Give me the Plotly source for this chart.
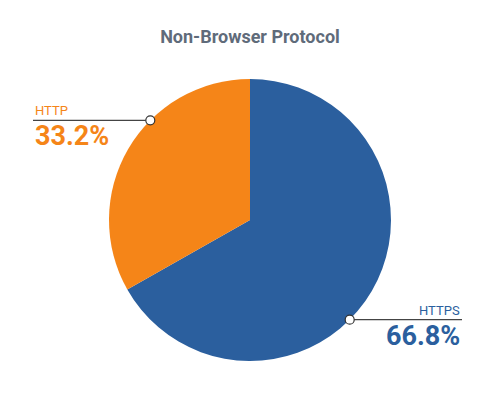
import numpy as np
import plotly.graph_objects as go

labels = ["HTTPS", "HTTP"]
values = [66.8, 33.2]
colors = ["#2b5f9e", "#f58518"]

W, H = 500, 400
OFF = 8  # page body margin
cx, cy, r = 250, 220, 141  # pie centre / radius in pixels

def px(x, y):
    return (x - OFF) / W, 1 - (y - OFF) / H

dx0, dy0 = px(cx - r, cy + r)
dx1, dy1 = px(cx + r, cy - r)
fig = go.Figure(go.Pie(
    labels=labels, values=values, sort=False, direction="clockwise", rotation=0,
    marker=dict(colors=colors, line=dict(width=0)),
    textinfo="none", showlegend=False,
    domain=dict(x=[dx0, dx1], y=[dy0, dy1]),
))

# callout points: slice mid angle snapped to nearest diagonal
start = 90.0
for lab, val, col in zip(labels, values, colors):
    span = val / sum(values) * 360
    mid = start - span / 2
    start -= span
    ang = 45 + 90 * round((mid - 45) / 90)
    mx = cx + r * np.cos(np.radians(ang))
    my = cy - r * np.sin(np.radians(ang))
    left = np.cos(np.radians(ang)) < 0
    ex = 33 if left else 462
    x0, y0 = px(min(mx, ex), my)
    x1, _ = px(max(mx, ex), my)
    fig.add_shape(type="line", xref="paper", yref="paper", x0=x0, x1=x1, y0=y0, y1=y0,
                  line=dict(color="#444", width=1.2))
    a0, b0 = px(mx - 4.5, my + 4.5)
    a1, b1 = px(mx + 4.5, my - 4.5)
    fig.add_shape(type="circle", xref="paper", yref="paper", x0=a0, x1=a1, y0=b0, y1=b1,
                  fillcolor="white", line=dict(color="#333", width=1.2))
    tx, _ = px(ex, 0)
    anchor = "left" if left else "right"
    fig.add_annotation(x=tx, y=y0, xref="paper", yref="paper", text=lab, showarrow=False,
                       xanchor=anchor, yanchor="bottom", yshift=0,
                       font=dict(family="Roboto", size=13, color=col))
    fig.add_annotation(x=tx, y=y0, xref="paper", yref="paper", text="<b>%.1f%%</b>" % val,
                       showarrow=False, xanchor=anchor, yanchor="top", yshift=2,
                       font=dict(family="Roboto", size=27, color=col))

tx, ty = px(cx, 37)
fig.update_layout(
    width=W, height=H, margin=dict(l=0, r=0, t=0, b=0),
    paper_bgcolor="white", plot_bgcolor="white",
    title=dict(text="<b>Non-Browser Protocol</b>", x=tx, xanchor="center", y=ty,
               yanchor="middle", font=dict(family="Roboto", size=18, color="#5f6b7a")),
)

fig.write_html("out.html")
